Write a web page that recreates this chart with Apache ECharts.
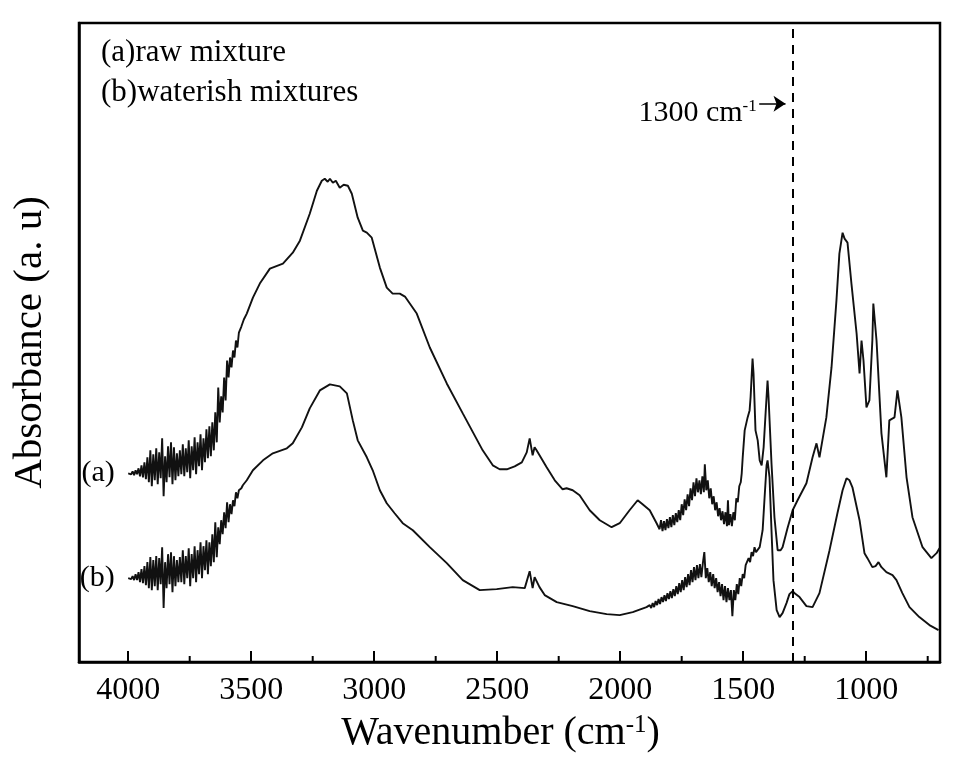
<!DOCTYPE html>
<html><head><meta charset="utf-8">
<script src="https://cdn.jsdelivr.net/npm/echarts@6/dist/echarts.min.js"></script>
<style>html,body{margin:0;padding:0;background:#fff}#c{width:960px;height:766px}</style>
</head><body><div id="c"></div>
<script>
// Curve (a): raw mixture  [wavenumber cm-1, absorbance a.u.]
const curveA=[
[4000,1.89],[3994,1.90],[3988,1.88],[3982,1.91],[3976,1.87],[3970,1.92],[3964,1.88],[3958,1.94],[3952,1.86],[3946,1.97],
[3940,1.85],[3934,2.00],[3928,1.83],[3922,2.05],[3916,1.80],[3910,2.12],[3904,1.76],[3898,2.08],[3892,1.82],[3886,2.14],
[3880,1.78],[3874,2.10],[3868,1.84],[3862,2.24],[3856,1.66],[3850,2.06],[3844,1.80],[3838,2.16],[3832,1.85],[3826,2.20],
[3820,1.78],[3814,2.15],[3808,1.82],[3802,2.09],[3796,1.86],[3790,2.12],[3784,1.88],[3778,2.18],[3772,1.86],[3766,2.14],
[3760,1.90],[3754,2.22],[3748,1.84],[3742,2.16],[3736,1.92],[3730,2.25],[3724,1.88],[3718,2.20],[3712,1.96],[3706,2.28],
[3700,1.92],[3694,2.24],[3688,2.00],[3682,2.33],[3676,2.04],[3670,2.36],[3664,2.06],[3658,2.40],[3652,2.12],[3646,2.50],
[3640,2.20],[3634,2.75],[3628,2.40],[3622,2.66],[3616,2.50],[3610,2.85],[3604,2.62],[3598,3.02],[3592,2.85],[3586,3.05],
[3580,2.95],[3574,3.12],[3568,3.05],[3562,3.22],[3556,3.15],[3550,3.30],[3540,3.36],[3530,3.43],[3518,3.49],[3493,3.65],
[3465,3.79],[3424,3.94],[3371,3.99],[3331,4.10],[3302,4.22],[3262,4.49],[3233,4.72],[3213,4.82],[3201,4.84],[3189,4.81],
[3180,4.84],[3168,4.80],[3156,4.82],[3140,4.75],[3124,4.78],[3107,4.77],[3091,4.69],[3067,4.45],[3046,4.32],[3030,4.30],
[3010,4.25],[2977,3.95],[2949,3.75],[2925,3.69],[2896,3.69],[2875,3.66],[2827,3.49],[2774,3.15],[2705,2.79],[2640,2.49],
[2559,2.12],[2518,1.97],[2490,1.93],[2461,1.93],[2429,1.96],[2400,2.00],[2380,2.10],[2368,2.24],[2356,2.07],[2348,2.15],
[2340,2.12],[2299,1.95],[2266,1.82],[2234,1.73],[2218,1.74],[2193,1.72],[2165,1.67],[2124,1.52],[2083,1.42],[2035,1.35],
[2002,1.39],[1962,1.52],[1929,1.62],[1909,1.58],[1880,1.52],[1852,1.39],[1846,1.36],[1840,1.33],[1834,1.42],[1828,1.31],
[1822,1.41],[1816,1.32],[1810,1.43],[1804,1.34],[1798,1.45],[1792,1.35],[1786,1.47],[1780,1.37],[1774,1.49],[1768,1.40],
[1762,1.52],[1756,1.42],[1750,1.58],[1744,1.47],[1738,1.63],[1732,1.52],[1726,1.68],[1720,1.56],[1714,1.74],[1708,1.62],
[1702,1.80],[1696,1.66],[1690,1.84],[1684,1.70],[1678,1.82],[1672,1.68],[1666,1.86],[1660,1.70],[1656,1.98],[1650,1.72],
[1644,1.82],[1638,1.64],[1632,1.74],[1626,1.58],[1620,1.66],[1614,1.52],[1608,1.60],[1602,1.46],[1596,1.54],[1590,1.42],
[1584,1.51],[1578,1.38],[1572,1.50],[1566,1.36],[1562,1.62],[1558,1.37],[1552,1.48],[1546,1.36],[1540,1.50],[1534,1.42],
[1528,1.64],[1522,1.60],[1516,1.76],[1510,1.80],[1506,1.89],[1502,2.05],[1494,2.32],[1482,2.45],[1474,2.52],[1470,2.65],
[1462,3.04],[1458,2.89],[1450,2.32],[1441,2.22],[1433,2.02],[1425,1.97],[1417,2.15],[1409,2.49],[1401,2.82],[1397,2.65],
[1385,1.99],[1373,1.45],[1360,1.12],[1348,1.12],[1340,1.15],[1320,1.34],[1299,1.52],[1279,1.62],[1243,1.79],[1218,2.05],
[1202,2.19],[1190,2.05],[1162,2.45],[1141,2.95],[1121,3.62],[1109,4.09],[1096,4.30],[1088,4.24],[1084,4.26],[1076,4.20],
[1060,3.79],[1039,3.29],[1027,2.89],[1019,3.22],[1011,3.02],[999,2.55],[987,2.62],[975,3.22],[971,3.59],[958,3.22],
[938,2.29],[918,1.85],[906,2.42],[885,2.45],[873,2.72],[857,2.45],[836,1.85],[812,1.45],[771,1.15],[735,1.04],
[714,1.09],[702,1.14]];
// Curve (b): waterish mixtures
const curveB=[
[4000,0.84],[3994,0.85],[3988,0.83],[3982,0.86],[3976,0.82],[3970,0.88],[3964,0.82],[3958,0.90],[3952,0.80],[3946,0.93],
[3940,0.79],[3934,0.96],[3928,0.77],[3922,1.00],[3916,0.74],[3910,1.05],[3904,0.72],[3898,1.02],[3892,0.76],[3886,1.06],
[3880,0.72],[3874,1.04],[3868,0.78],[3862,1.15],[3856,0.54],[3850,1.00],[3844,0.74],[3838,1.08],[3832,0.78],[3826,1.10],
[3820,0.70],[3814,1.06],[3808,0.76],[3802,1.02],[3796,0.80],[3790,1.05],[3784,0.80],[3778,1.12],[3772,0.78],[3766,1.06],
[3760,0.84],[3754,1.14],[3748,0.76],[3742,1.08],[3736,0.84],[3730,1.16],[3724,0.80],[3718,1.12],[3712,0.88],[3706,1.20],
[3700,0.84],[3694,1.16],[3688,0.92],[3682,1.22],[3676,0.88],[3670,1.20],[3664,0.96],[3658,1.28],[3652,1.00],[3646,1.40],
[3640,1.05],[3634,1.35],[3628,1.18],[3622,1.42],[3616,1.28],[3610,1.50],[3604,1.34],[3598,1.60],[3592,1.40],[3586,1.58],
[3580,1.48],[3574,1.62],[3568,1.56],[3562,1.70],[3556,1.64],[3550,1.72],[3540,1.74],[3534,1.77],[3518,1.82],[3493,1.92],
[3452,2.02],[3412,2.09],[3355,2.14],[3331,2.19],[3294,2.35],[3262,2.54],[3221,2.72],[3180,2.78],[3140,2.76],[3111,2.69],
[3087,2.42],[3067,2.22],[3030,2.05],[3006,1.92],[2977,1.72],[2949,1.59],[2917,1.49],[2884,1.39],[2843,1.32],[2774,1.15],
[2705,0.99],[2640,0.82],[2571,0.72],[2502,0.73],[2437,0.75],[2388,0.74],[2368,0.91],[2356,0.74],[2348,0.85],[2328,0.75],
[2307,0.67],[2258,0.60],[2193,0.56],[2124,0.51],[2055,0.48],[2002,0.47],[1949,0.50],[1893,0.55],[1886,0.53],[1880,0.57],
[1874,0.54],[1868,0.59],[1862,0.55],[1856,0.61],[1850,0.57],[1844,0.63],[1838,0.58],[1832,0.65],[1826,0.60],[1820,0.67],
[1814,0.61],[1808,0.69],[1802,0.63],[1796,0.71],[1790,0.64],[1784,0.73],[1778,0.66],[1772,0.76],[1766,0.68],[1760,0.79],
[1754,0.70],[1748,0.82],[1742,0.72],[1736,0.85],[1730,0.75],[1724,0.88],[1718,0.77],[1712,0.92],[1706,0.80],[1700,0.95],
[1694,0.82],[1688,0.97],[1682,0.84],[1676,0.98],[1670,0.85],[1664,0.99],[1658,1.10],[1652,0.84],[1646,0.94],[1640,0.80],
[1634,0.90],[1628,0.76],[1622,0.88],[1616,0.74],[1610,0.84],[1604,0.70],[1598,0.80],[1592,0.66],[1586,0.78],[1580,0.62],
[1574,0.76],[1568,0.60],[1562,0.74],[1556,0.62],[1550,0.72],[1544,0.46],[1538,0.72],[1532,0.62],[1526,0.78],[1520,0.68],
[1514,0.84],[1508,0.76],[1502,0.88],[1496,0.84],[1490,0.97],[1484,0.95],[1478,1.04],[1472,1.00],[1466,1.10],[1460,1.06],
[1454,1.15],[1448,1.10],[1441,1.12],[1433,1.15],[1421,1.32],[1413,1.65],[1405,1.97],[1401,2.02],[1393,1.85],[1385,1.32],
[1377,0.82],[1364,0.52],[1352,0.45],[1340,0.49],[1324,0.59],[1312,0.68],[1299,0.71],[1287,0.68],[1271,0.65],[1243,0.56],
[1218,0.55],[1190,0.69],[1149,1.12],[1117,1.49],[1096,1.72],[1080,1.84],[1068,1.82],[1056,1.75],[1027,1.42],[1007,1.09],
[995,1.04],[975,0.95],[962,0.96],[950,1.00],[938,0.95],[918,0.90],[893,0.87],[877,0.82],[853,0.69],[824,0.55],
[784,0.45],[743,0.37],[706,0.32]];
const majorTicks=[1000,1500,2000,2500,3000,3500,4000];
const minorTicks=[750,1250,1750,2250,2750,3250,3750];
const legendLines=['(a)raw mixture','(b)waterish mixtures'];
const seriesNames=['(a)','(b)'];
const markerWave=1300;
const arrowFrom=1435, arrowTo=1328, arrowLevel=5.59, noteLevel=5.50;

const F='"Liberation Serif","Times New Roman",serif';
const hidden={color:'rgba(0,0,0,0)'};
function tickSeries(values,len){
  return {type:'custom',silent:true,z:5,data:values.map(v=>[v,0]),
    renderItem:(p,api)=>{const pt=api.coord([api.value(0),api.value(1)]);
      return {type:'line',shape:{x1:pt[0],y1:pt[1],x2:pt[0],y2:pt[1]-len},style:{stroke:'#000',lineWidth:2}};}};
}
const chart=echarts.init(document.getElementById('c'));
chart.setOption({
  animation:false,
  backgroundColor:'#fff',
  title:{text:legendLines.join('\n'),left:101,top:33,padding:0,
    textStyle:{fontSize:31,fontWeight:'normal',fontFamily:F,color:'#000',lineHeight:40}},
  grid:{left:79,right:20,top:23,bottom:104,show:true,borderColor:'#000',borderWidth:2.5,containLabel:false},
  xAxis:{
    type:'value',inverse:true,min:700,max:4200,position:'bottom',
    axisLine:{show:true,lineStyle:{color:'#000',width:2.5}},
    axisTick:{show:true,inside:true,length:11,customValues:majorTicks,lineStyle:{color:'#000',width:2}},
    axisLabel:{show:true,customValues:majorTicks,formatter:v=>String(v),fontSize:32,fontFamily:F,color:'#000',margin:13},
    splitLine:{show:false},
    name:'Wavenumber (cm{sup|-1})',nameLocation:'middle',nameGap:51,
    nameTextStyle:{fontSize:40,fontFamily:F,color:'#000',padding:[0,18,0,0],
      rich:{sup:{fontSize:25,fontFamily:F,color:'#000',verticalAlign:'top'}}}
  },
  yAxis:{type:'value',min:0,max:6.4,
    axisLine:{show:true,lineStyle:{color:'#000',width:2.5}},
    axisTick:{show:false},axisLabel:{show:false},splitLine:{show:false},
    name:'Absorbance (a. u)',nameLocation:'middle',nameGap:28,
    nameTextStyle:{fontSize:41,fontFamily:F,color:'#000'}},
  series:[
  tickSeries(minorTicks,6),
  {
    name:'a',type:'line',data:curveA,showSymbol:false,
    lineStyle:{color:'#111',width:1.9},
    markLine:{silent:true,symbol:['none','none'],label:{show:false},
      lineStyle:{type:[9,7],color:'#000',width:2},
      data:[{xAxis:markerWave}]},
    markPoint:{symbol:'circle',symbolSize:1,itemStyle:hidden,
      label:{show:true,position:'left',distance:13,fontSize:30,fontFamily:F,color:'#000'},
      data:[{coord:curveA[0],label:{formatter:seriesNames[0]}},
        {coord:[arrowFrom,noteLevel],label:{distance:2,formatter:'{n|'+markerWave+' cm}{s|-1}',
          rich:{n:{fontSize:30,fontFamily:F,color:'#000'},s:{fontSize:17,fontFamily:F,color:'#000',verticalAlign:'top'}}}}]}
  },{
    name:'b',type:'line',data:curveB,showSymbol:false,
    lineStyle:{color:'#111',width:1.9},
    markLine:{silent:true,symbol:['none','arrow'],symbolSize:12,label:{show:false},
      lineStyle:{type:'solid',color:'#000',width:1.5},
      data:[[{coord:[arrowFrom,arrowLevel]},{coord:[arrowTo,arrowLevel]}]]},
    markPoint:{symbol:'circle',symbolSize:1,itemStyle:hidden,
      label:{show:true,position:'left',distance:13,fontSize:30,fontFamily:F,color:'#000'},
      data:[{coord:curveB[0],label:{formatter:seriesNames[1]}}]}
  }]
});
</script></body></html>
